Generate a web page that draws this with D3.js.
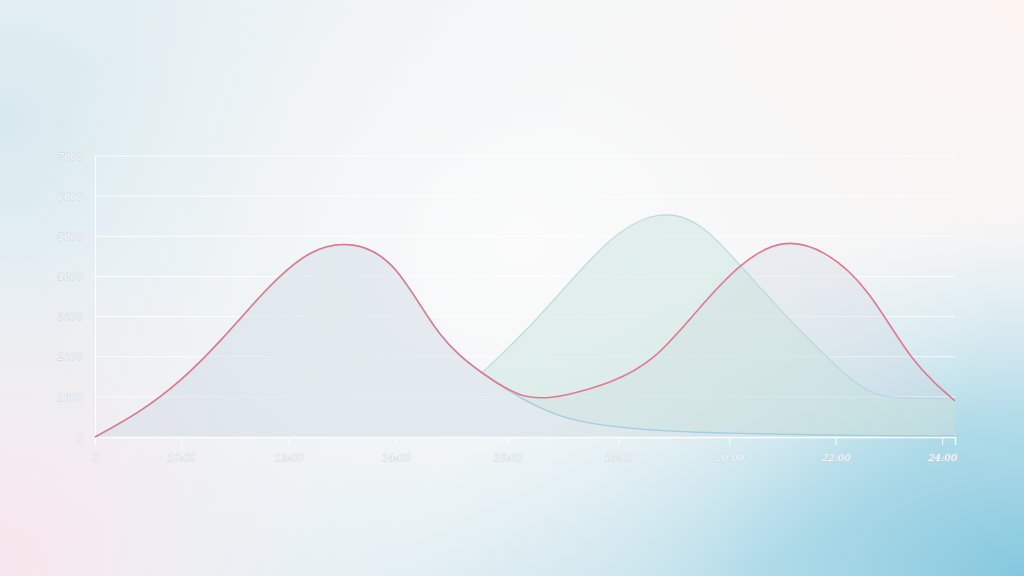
<!DOCTYPE html>
<html><head><meta charset="utf-8">
<script src="https://cdn.jsdelivr.net/npm/d3@7"></script>
<style>html,body{margin:0;padding:0;overflow:hidden;background:#f4f5f6}</style>
</head><body>
<svg id="c" width="1024" height="576"></svg>
<script>
// ---- data ----
const xs = [0,4,8,12,16,20,24,28,32,36,40,44,48,52,56,60,64,68,72,76,80];
const redSeries = [0,0.62,1.43,2.50,3.68,4.57,4.78,4.15,2.6,1.6,1.02,1.06,1.38,2.0,3.14,4.25,4.81,4.55,3.55,1.98,0.9];
const blueSeries = [0,0.62,1.43,2.50,3.68,4.57,4.78,4.15,2.6,1.6,0.92,0.47,0.27,0.17,0.12,0.09,0.07,0.05,0.04,0.03,0.03];
const tealXs = [36,40,44,48,52,56,60,64,68,72,76,80];
const tealSeries = [1.6,2.64,3.81,4.91,5.5,5.3,4.28,3.1,2.02,1.15,0.97,0.95];
const yTicks = [0,1,2,3,4,5,6,7];
const yTickLabels = ["0","1000","2000","3000","4000","5000","6000","7000"];
const xTicks = [0,8,18,28,38.4,48.7,59,68.9,78.8];
const xTickLabels = ["0","10:00","12:00","14:00","16:00","18:00","20:00","22:00","24:00"];

const svg = d3.select("#c");
const W = 1024, H = 576;
const defs = svg.append("defs");
function radial(id, cx, cy, r, stops, sx){
  const g = defs.append("radialGradient").attr("id", id).attr("gradientUnits","userSpaceOnUse")
    .attr("cx",cx).attr("cy",cy).attr("r",r);
  if (sx) g.attr("gradientTransform", `translate(${cx},${cy}) scale(${sx},1) translate(${-cx},${-cy})`);
  stops.forEach(s=>g.append("stop").attr("offset",s[0]).attr("stop-color",s[1]).attr("stop-opacity",s[2]));
}
radial("gTL", 0, 120, 520, [[0,"#d8e9ef",1],[0.6,"#e5eff2",0.55],[1,"#eef3f5",0]], 1.2);
radial("gBR", 1024, 576, 360, [[0,"#84c8de",1],[0.45,"#a8d8e7",0.85],[1,"#cfe7ef",0]], 1.7);
radial("gBL", 0, 560, 330, [[0,"#f7e5ec",1],[1,"#f6eef1",0]], 1.1);
radial("gTR", 1024, 0, 420, [[0,"#fcf5f2",1],[1,"#fbf6f4",0]], 1.2);
radial("gC", 520, 240, 380, [[0,"#fbfbfb",0.95],[1,"#f8f8f8",0]], 1.3);
radial("gB", 520, 620, 300, [[0,"#d3e8ef",0.8],[1,"#dcecf1",0]], 1.6);

svg.append("rect").attr("width",W).attr("height",H).attr("fill","#f3f5f6");
["gTL","gTR","gBL","gB","gBR","gC"].forEach(id=>{
  svg.append("rect").attr("width",W).attr("height",H).attr("fill",`url(#${id})`);
});

const x = d3.scaleLinear().domain([0,80]).range([95,955]);
const y = d3.scaleLinear().domain([0,7]).range([437,156]);

// gridlines
svg.append("g").selectAll("line").data(yTicks.slice(1)).join("line")
  .attr("x1",95).attr("x2",955).attr("y1",d=>y(d)).attr("y2",d=>y(d))
  .attr("stroke","#ffffff").attr("stroke-opacity",0.8).attr("stroke-width",1);

function styleText(sel){
  sel.attr("fill","#ffffff").attr("stroke","#c9d3d8").attr("stroke-width",0.9)
    .attr("paint-order","stroke").attr("font-family","DejaVu Serif").attr("font-style","italic").attr("font-size",10);
}

// y axis
const yAxis = d3.axisLeft(y).tickValues(yTicks).tickFormat((d,i)=>yTickLabels[i]).tickSize(0).tickPadding(12);
const gy = svg.append("g").attr("transform","translate(95,0)").call(yAxis);
gy.select(".domain").attr("stroke","#ffffff").attr("stroke-opacity",0.95);
styleText(gy.selectAll("text"));

const curve = d3.curveNatural;
const redData = xs.map((d,i)=>({x:d, v:redSeries[i]}));
const blueData = xs.map((d,i)=>({x:d, v:blueSeries[i]}));
const tealData = tealXs.map((d,i)=>({x:d, v:tealSeries[i], b:blueSeries[xs.indexOf(d)]}));

const area = d3.area().x(d=>x(d.x)).y0(y(0)).y1(d=>y(d.v)).curve(curve);
const tealArea = d3.area().x(d=>x(d.x)).y0(d=>y(d.b)).y1(d=>y(d.v)).curve(curve);
const line = d3.line().x(d=>x(d.x)).y(d=>y(d.v)).curve(curve);

// areas
svg.append("path").datum(redData).attr("d",area).attr("fill","#cdd3df").attr("fill-opacity",0.3);
svg.append("path").datum(blueData).attr("d",area).attr("fill","#d4e2ea").attr("fill-opacity",0.25);
svg.append("path").datum(tealData).attr("d",tealArea).attr("fill","#c6e3dc").attr("fill-opacity",0.45);

// x axis
const xAxis = d3.axisBottom(x).tickValues(xTicks).tickFormat((d,i)=>xTickLabels[i]).tickSize(8).tickPadding(9);
const gx = svg.append("g").attr("transform","translate(0,437)").call(xAxis);
gx.select(".domain").attr("stroke","#ffffff").attr("stroke-opacity",0.95).attr("stroke-width",1.5);
gx.selectAll(".tick line").attr("stroke","#ffffff").attr("stroke-opacity",0.95);
gx.selectAll(".tick").filter((d,i)=>i===0).select("line").remove();
styleText(gx.selectAll("text"));

// lines
svg.append("path").datum(tealData).attr("d",line).attr("fill","none").attr("stroke","#b4d6e2").attr("stroke-width",1.2).attr("stroke-opacity",0.9);
svg.append("path").datum(blueData).attr("d",line).attr("fill","none").attr("stroke","#a3cde0").attr("stroke-width",1.4);
svg.append("path").datum(redData).attr("d",line).attr("fill","none").attr("stroke","#e07990").attr("stroke-width",1.6);
</script>
</body></html>
